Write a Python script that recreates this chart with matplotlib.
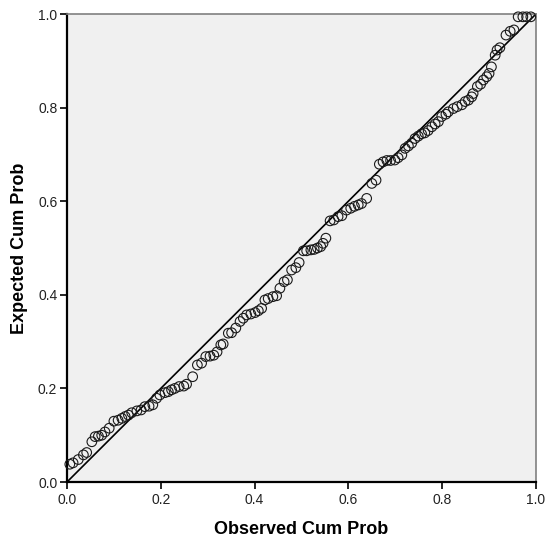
import matplotlib
matplotlib.use('agg')
import matplotlib.pyplot as plt  # noqa: E402

plt.rcParams['font.family'] = ['Liberation Sans', 'DejaVu Sans']

# observed vs expected cumulative probabilities
observed = [
    0.006, 0.013, 0.024, 0.035, 0.042, 0.053, 0.060, 0.067, 0.074, 0.081,
    0.090, 0.100, 0.109, 0.117, 0.124, 0.131, 0.138, 0.149, 0.158, 0.166,
    0.175, 0.183, 0.191, 0.198, 0.209, 0.216, 0.223, 0.230, 0.239, 0.249,
    0.255, 0.268, 0.278, 0.287, 0.296, 0.305, 0.313, 0.320, 0.328, 0.333,
    0.344, 0.351, 0.360, 0.369, 0.376, 0.383, 0.392, 0.401, 0.408, 0.415,
    0.422, 0.429, 0.439, 0.447, 0.454, 0.463, 0.470, 0.479, 0.488, 0.495,
    0.504, 0.511, 0.520, 0.527, 0.534, 0.541, 0.546, 0.552, 0.561, 0.569,
    0.578, 0.586, 0.596, 0.605, 0.613, 0.621, 0.628, 0.639, 0.650, 0.659,
    0.666, 0.674, 0.682, 0.690, 0.699, 0.706, 0.714, 0.721, 0.728, 0.735,
    0.742, 0.749, 0.756, 0.763, 0.770, 0.778, 0.785, 0.792, 0.799, 0.808,
    0.813, 0.824, 0.832, 0.842, 0.849, 0.856, 0.863, 0.866, 0.875, 0.882,
    0.888, 0.895, 0.900, 0.905, 0.913, 0.917, 0.923, 0.936, 0.945, 0.953,
    0.962, 0.972, 0.980, 0.989,
]
expected = [
    0.038, 0.041, 0.048, 0.058, 0.063, 0.086, 0.097, 0.098, 0.100, 0.107,
    0.115, 0.130, 0.132, 0.136, 0.140, 0.143, 0.148, 0.152, 0.154, 0.161,
    0.162, 0.165, 0.179, 0.186, 0.191, 0.193, 0.197, 0.200, 0.204, 0.205,
    0.209, 0.225, 0.250, 0.254, 0.268, 0.269, 0.271, 0.278, 0.293, 0.295,
    0.318, 0.319, 0.329, 0.343, 0.350, 0.357, 0.359, 0.362, 0.366, 0.371,
    0.389, 0.392, 0.396, 0.398, 0.414, 0.428, 0.432, 0.453, 0.458, 0.469,
    0.494, 0.494, 0.496, 0.497, 0.500, 0.503, 0.510, 0.521, 0.558, 0.560,
    0.567, 0.569, 0.581, 0.585, 0.589, 0.592, 0.595, 0.606, 0.638, 0.645,
    0.679, 0.684, 0.687, 0.687, 0.688, 0.693, 0.699, 0.713, 0.718, 0.724,
    0.734, 0.739, 0.744, 0.746, 0.751, 0.759, 0.765, 0.770, 0.781, 0.786,
    0.791, 0.798, 0.802, 0.806, 0.813, 0.816, 0.823, 0.830, 0.845, 0.850,
    0.859, 0.866, 0.873, 0.887, 0.912, 0.923, 0.928, 0.955, 0.963, 0.966,
    0.994, 0.994, 0.994, 0.994,
]
ticks = [0.0, 0.2, 0.4, 0.6, 0.8, 1.0]
tick_labels = ['0.0', '0.2', '0.4', '0.6', '0.8', '1.0']

fig = plt.figure(figsize=(5.5, 5.47), dpi=100)
ax = fig.add_axes([0.1218, 0.1188, 0.8527, 0.8556])
ax.set_facecolor('#f0f0f0')

# reference line
ax.plot([0, 1], [0, 1], color='black', lw=1.2, zorder=2)
ax.scatter(observed, expected, s=48, facecolors='none', edgecolors='#1a1a1a',
           linewidths=0.8, zorder=3, clip_on=False)

ax.set_xlim(0, 1)
ax.set_ylim(0, 1)
ax.set_xticks(ticks)
ax.set_xticklabels(tick_labels)
ax.set_yticks(ticks)
ax.set_yticklabels(tick_labels)
ax.tick_params(direction='out', length=5, width=1.2, labelsize=10,
               colors='black', labelcolor='#222222', pad=2)
ax.tick_params(axis='x', pad=3)

for side in ['left', 'bottom']:
    ax.spines[side].set_linewidth(1.6)
    ax.spines[side].set_color('black')
for side in ['top', 'right']:
    ax.spines[side].set_linewidth(1.2)
    ax.spines[side].set_color('#808080')

ax.set_xlabel('Observed Cum Prob', fontsize=13, fontweight='bold',
              labelpad=10)
ax.set_ylabel('Expected Cum Prob', fontsize=13, fontweight='bold',
              labelpad=7)

plt.savefig('out.png', dpi=100)
plt.close()
